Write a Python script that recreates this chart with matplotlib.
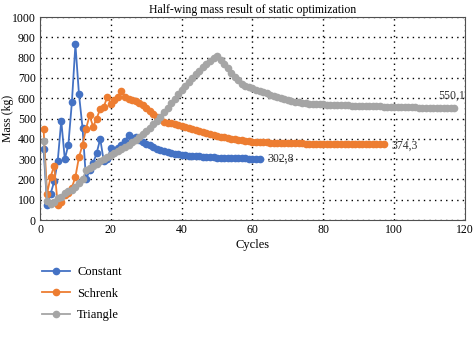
import matplotlib
matplotlib.use('Agg')
import numpy as np
from matplotlib import pyplot as plt

constant = [350, 75, 130, 190, 290, 490, 300, 370, 580, 865, 620, 455, 200, 245, 280, 330, 400, 290, 300, 355,
            340, 355, 370, 390, 418, 405, 410, 395, 385, 375, 368, 360, 352, 345, 340, 335, 330, 327, 324, 321,
            319, 317, 315, 314, 313, 312, 311, 310, 309, 308, 307, 306, 306, 305, 305, 304, 304, 304, 303, 303,
            303, 302.8]
schrenk = [450, 130, 213, 268, 74, 90, 125, 135, 160, 213, 310, 370, 450, 515, 460, 500, 548, 557, 607, 574,
           590, 605, 635, 607, 598, 592, 585, 576, 565, 552, 538, 524, 510, 497, 485, 480, 476, 472, 468, 463,
           458, 452, 447, 442, 437, 432, 427, 423, 419, 415, 411, 408, 404, 401, 398, 395, 392, 390, 388, 386,
           385, 384, 383, 382, 381, 381, 380, 380, 379, 379, 379, 378, 378, 378, 377, 377, 377, 377, 376, 376,
           376, 376, 376, 375, 375, 375, 375, 375, 375, 374.8, 374.7, 374.6, 374.5, 374.5, 374.4, 374.3, 374.3]
triangle = [390, 95, 80, 90, 110, 115, 135, 145, 150, 165, 180, 200, 245, 255, 265, 278, 290, 300, 310, 318,
            328, 338, 350, 360, 372, 384, 396, 410, 425, 440, 455, 472, 490, 510, 530, 552, 575, 598, 620, 640,
            660, 680, 700, 718, 735, 752, 768, 783, 797, 808, 790, 770, 748, 725, 705, 688, 672, 662, 655, 648,
            642, 636, 630, 624, 618, 612, 606, 600, 595, 590, 586, 582, 579, 577, 575, 574, 573, 572, 571, 570,
            569, 568, 567, 566, 566, 565, 565, 564, 563, 563, 562, 562, 561, 561, 560, 560, 559, 559, 558, 558,
            557, 557, 556, 556, 555, 555, 554, 554, 553, 553, 552, 552, 551, 551, 551, 550.5, 550.1]

series = [('Constant', constant, '#4472C4'),
          ('Schrenk', schrenk, '#ED7D31'),
          ('Triangle', triangle, '#A5A5A5')]

plt.rcParams['font.family'] = ['Liberation Serif', 'DejaVu Serif']

fig = plt.figure(figsize=(4.74, 3.38), dpi=100)
ax = fig.add_axes([0.0844, 0.349, 0.8966, 0.6006])

for name, vals, color in series:
    x = np.arange(1, len(vals) + 1)
    ax.plot(x, vals, color=color, marker='o', markersize=4.5, linewidth=1.3, label=name)

# end-value labels
ax.annotate('302,8', (len(constant), constant[-1]), xytext=(6, 0), textcoords='offset points',
            ha='left', va='center', fontsize=8.5, color='#333333')
ax.annotate('374,3', (len(schrenk), schrenk[-1]), xytext=(6, -1), textcoords='offset points',
            ha='left', va='center', fontsize=8.5, color='#333333')
ax.annotate('550,1', (len(triangle), triangle[-1]), xytext=(-2, 9), textcoords='offset points',
            ha='center', va='center', fontsize=8.5, color='#333333')

ax.set_xlim(0, 120)
ax.set_ylim(0, 1000)
ax.set_xticks(np.arange(0, 121, 20))
ax.set_yticks(np.arange(0, 1001, 100))
ax.grid(True, color='black', linestyle=(0, (1, 3)), linewidth=1.0)
ax.tick_params(labelsize=8.5, length=0, pad=3)
for s in ax.spines.values():
    s.set_color('#505050')
    s.set_linewidth(0.8)

ax.set_title('Half-wing mass result of static optimization', fontsize=8.5, pad=3)
ax.set_xlabel('Cycles', fontsize=9, labelpad=2)
ax.set_ylabel('Mass (kg)', fontsize=8.5)
ax.yaxis.set_label_coords(-0.062, 0.5)

fig.legend(loc='upper left', bbox_to_anchor=(0.065, 0.245), frameon=False, fontsize=9,
           handlelength=2.2, labelspacing=0.75, handletextpad=0.6)

plt.savefig('out.png', dpi=100)
